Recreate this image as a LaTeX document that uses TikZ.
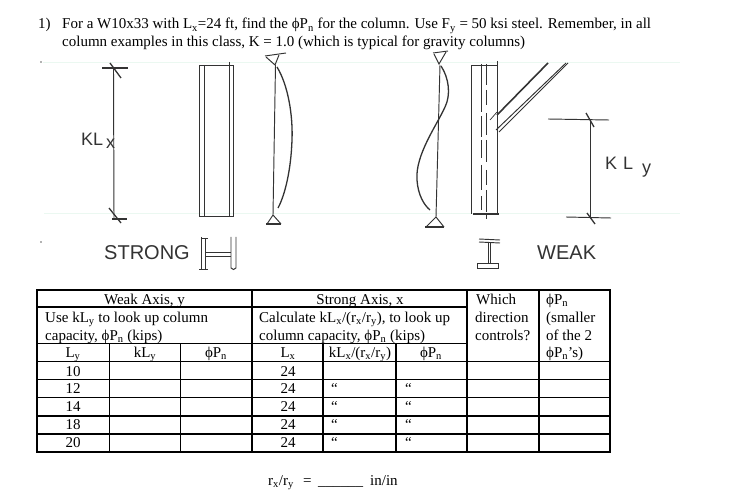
\documentclass[tikz,border=0pt]{standalone}
\usepackage{fontspec}
\setmainfont{Liberation Serif}
\newfontfamily\handfont{Liberation Sans}
\newcommand{\sbs}[1]{\textsubscript{#1}}
\newcommand{\phiP}{ϕP\sbs{n}}
\tikzset{
  txt/.style={anchor=base west,inner sep=0pt,font=\fontsize{15}{17}\selectfont},
  ctr/.style={anchor=base,inner sep=0pt,font=\fontsize{15}{17}\selectfont},
  hand/.style={anchor=base west,inner sep=0pt,text=black!80,font=\handfont\fontsize{18}{20}\selectfont},
  sketch/.style={draw=black!80,line width=.95pt},
  bold sketch/.style={draw=black!80,line width=1.3pt},
  heavy/.style={line width=1.6pt},
  thin rule/.style={line width=1pt},
  mid rule/.style={line width=1.2pt},
  guide/.style={draw=cyan!35!green!8,line width=1pt}
}
\begin{document}
\begin{tikzpicture}[x=1pt,y=-1pt]
\useasboundingbox (0,0) rectangle (731,497);
\node[txt] (line1a) at (38,29) {1)};
\node[txt] (line1b) at (62,29) {For a W10x33 with L\sbs{x}=24 ft, find the \phiP{} for the column. Use F\sbs{y} = 50 ksi steel. Remember, in all};
\node[txt] (line2) at (62,47) {column examples in this class, K = 1.0 (which is typical for gravity columns)};
\draw[guide] (43,63) -- (680,63);
\draw[guide] (44,214) -- (680,214);
\fill[black!60] (41,62) circle (.8);
\fill[black!60] (41,242) circle (.8);
\draw[sketch] (113.5,67) -- (114,219);
\draw[bold sketch] (102,68) -- (128,68);
\draw[bold sketch] (110,63) -- (121,78);
\draw[bold sketch] (112,219) -- (127,219);
\draw[bold sketch] (109,208) -- (121,223);
\node[hand] (klx) at (81,146) {KL};
\node[hand] (klxsub) at (106,149) {x};
\node[hand,font=\handfont\fontsize{20}{22}\selectfont] (strong) at (104,260) {STRONG};
\draw[sketch] (199.5,65) rectangle (233,216);
\draw[sketch] (204,65) -- (204,216);
\draw[sketch] (229,62) -- (229,216);
\draw[sketch] (201,237) -- (201,269);
\draw[sketch] (205,238) -- (205,269);
\draw[sketch] (201,238) -- (208,238);
\draw[sketch] (199,269) -- (208,269);
\draw[sketch] (231,237) -- (231,268) .. controls (232,270) and (235,270) .. (236,268) -- (236,237);
\draw[sketch] (205,252) -- (231,252);
\draw[sketch] (205,256) -- (231,256);
\draw[sketch] (265,56) -- (286,53);
\draw[sketch] (266,57) -- (275,65) -- (279,55);
\draw[sketch] (275.5,65) -- (273,215);
\draw[bold sketch] (277,67) .. controls (288,85) and (293,115) .. (292,140) .. controls (291,170) and (285,195) .. (278,208);
\draw[sketch] (273,215) -- (267,224);
\draw[sketch] (273,215) -- (281,224);
\draw[bold sketch] (266,224) -- (281,224);
\draw[sketch] (433,53) -- (448,51);
\draw[sketch] (434,54) -- (439,64) -- (446,52);
\draw[sketch] (440,65) -- (436,217);
\draw[bold sketch] (441,66) .. controls (449,78) and (451,95) .. (445,107) .. controls (437,125) and (415,155) .. (417,180) .. controls (418,195) and (424,205) .. (430,210);
\draw[sketch] (436,217) -- (426,227);
\draw[sketch] (436,217) -- (444,227);
\draw[bold sketch] (425,227) -- (444,227);
\draw[sketch] (471,65) -- (471,214);
\draw[sketch] (497,61) -- (497,214);
\draw[sketch] (471,65) -- (497,65);
\draw[bold sketch] (473,214) -- (499,214);
\draw[sketch] (486,214) -- (486,219);
\draw[sketch] (481,64) -- (481,85);
\draw[sketch] (486,64) -- (486,85);
\foreach \yt/\yb in {85/112,116/137,140/158,165/190,196/210}
  \draw[sketch] (481,\yt) -- (481,\yb);
\foreach \yt/\yb in {90/105,113/135,140/162,170/185,190/212}
  \draw[sketch] (486,\yt) -- (486,\yb);
\draw[bold sketch,line width=1.6pt] (497,115) -- (548,63);
\draw[sketch,line width=.7pt] (490,120) -- (497,112);
\draw[sketch] (496,130) -- (566,63);
\draw[sketch] (499,132) -- (568,63);
\draw[sketch] (548,119) -- (609,120);
\draw[sketch] (590,120) -- (590,218);
\draw[bold sketch] (586,113) -- (594,127);
\draw[sketch] (566,217) -- (611,218);
\draw[bold sketch] (587,213) -- (595,224);
\node[hand] (kly) at (605,170) {K\hspace{6pt}L};
\node[hand] (klysub) at (642,174) {y};
\node[hand,font=\handfont\fontsize{20}{22}\selectfont] (weak) at (537,260) {WEAK};
\draw[sketch] (479,239) -- (500,240);
\draw[sketch] (479,242) -- (500,243);
\draw[sketch] (488,243) -- (488,263);
\draw[sketch] (490,243) -- (490,263);
\draw[sketch] (477,263) rectangle (498,268);
\draw[heavy] (36.2,290) -- (610.8,290);
\draw[mid rule] (37,307) -- (467,307);
\draw[thin rule] (37,343) -- (467,343);
\foreach \yy in {361,379,397}
  \draw[thin rule] (37,\yy) -- (610,\yy);
\foreach \yy in {416,434,452}
  \draw[heavy] (36.2,\yy) -- (610.8,\yy);
\foreach \xx in {37,252,539,610}
  \draw[heavy] (\xx,290) -- (\xx,452);
\draw[mid rule] (467,290) -- (467,452);
\foreach \xx in {109,180}
  \draw[thin rule] (\xx,343) -- (\xx,452);
\foreach \xx in {323,396}
  \draw[mid rule] (\xx,343) -- (\xx,452);
\node[ctr] (weakaxis) at (144.5,304) {Weak Axis, y};
\node[txt] (weakuse) at (45,322) {Use kL\sbs{y} to look up column};
\node[txt] (weakcap) at (45,340) {capacity, \phiP{} (kips)};
\node[ctr] (strongaxis) at (360,304) {Strong Axis, x};
\node[txt] (stronguse) at (259,322) {Calculate kL\sbs{x}/(r\sbs{x}/r\sbs{y}), to look up};
\node[txt] (strongcap) at (259,340) {column capacity, \phiP{} (kips)};
\node[txt] (which) at (476,304) {Which};
\node[txt] (direction) at (475,322) {direction};
\node[txt] (controls) at (475,340) {controls?};
\node[txt] (smalla) at (546,304) {\phiP};
\node[txt] (smallb) at (546,322) {(smaller};
\node[txt] (smallc) at (546,340) {of the 2};
\node[txt] (smalld) at (546,357) {\phiP’s)};
\node[ctr] (hly) at (73,357) {L\sbs{y}};
\node[ctr] (hkly) at (145,357) {kL\sbs{y}};
\node[ctr] (hpy) at (216,357) {\phiP};
\node[ctr] (hlx) at (288,357) {L\sbs{x}};
\node[ctr] (hklx) at (360,357) {kL\sbs{x}/(r\sbs{x}/r\sbs{y})};
\node[ctr] (hpx) at (431,357) {\phiP};
\foreach \val/\yy in {10/376,12/393,14/411,18/429,20/447} {
  \node[ctr] (ly\val) at (73,\yy) {\val};
  \node[ctr] (lx\val) at (288,\yy) {24};
}
\foreach \val/\yy in {12/393,14/411,18/429,20/447} {
  \node[txt] (qa\val) at (331,\yy) {“};
  \node[txt] (qb\val) at (405,\yy) {“};
}
\node[txt] (ratio) at (268,485) {r\sbs{x}/r\sbs{y}};
\node[txt] (equals) at (303,485) {=};
\node[txt] (blank) at (318,485) {\_\_\_\_\_\_};
\node[txt] (inin) at (370,485) {in/in};
\end{tikzpicture}
\end{document}
